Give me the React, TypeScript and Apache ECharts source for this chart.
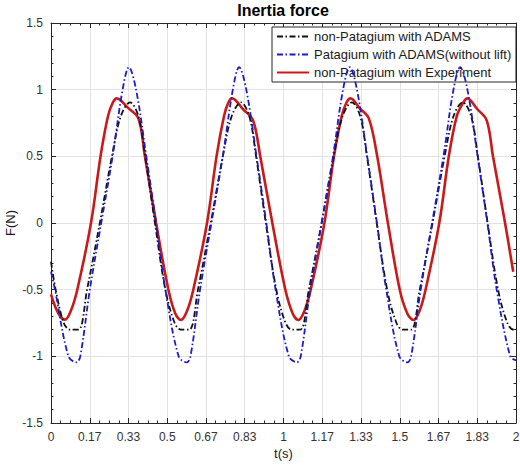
import React, { useEffect, useRef } from 'react';
import * as echarts from 'echarts';

// x tick labels (t in seconds, every 1/6 s)
const xTickLabels = ['0', '0.17', '0.33', '0.5', '0.67', '0.83', '1', '1.17', '1.33', '1.5', '1.67', '1.83', '2'];

// non-Patagium with ADAMS (black dash-dot)
const blackT = [0, 0.02, 0.055, 0.082, 0.118, 0.155, 0.21, 0.262, 0.3, 0.34, 0.376, 0.405, 0.447, 0.492, 0.532, 0.559, 0.595, 0.632, 0.687, 0.739, 0.777, 0.817, 0.853, 0.882, 0.924, 0.969, 1.009, 1.036, 1.072, 1.109, 1.164, 1.216, 1.254, 1.294, 1.33, 1.359, 1.401, 1.446, 1.486, 1.513, 1.549, 1.586, 1.641, 1.693, 1.731, 1.771, 1.807, 1.836, 1.878, 1.923, 1.963, 1.99, 2.0];
const blackF = [-0.29, -0.5, -0.75, -0.8, -0.8, -0.5, 0, 0.5, 0.8, 0.905, 0.8, 0.5, 0, -0.5, -0.75, -0.8, -0.8, -0.5, 0, 0.5, 0.8, 0.905, 0.8, 0.5, 0, -0.5, -0.75, -0.8, -0.8, -0.5, 0, 0.5, 0.8, 0.905, 0.8, 0.5, 0, -0.5, -0.75, -0.8, -0.8, -0.5, 0, 0.5, 0.8, 0.905, 0.8, 0.5, 0, -0.5, -0.75, -0.8, -0.8];

// Patagium with ADAMS (without lift) (blue dash-dot)
const blueT = [0, 0.017, 0.075, 0.11, 0.126, 0.167, 0.216, 0.265, 0.308, 0.335, 0.366, 0.41, 0.452, 0.492, 0.549, 0.584, 0.6, 0.641, 0.69, 0.739, 0.782, 0.809, 0.84, 0.884, 0.926, 0.966, 1.023, 1.058, 1.074, 1.115, 1.164, 1.213, 1.256, 1.285, 1.316, 1.36, 1.402, 1.442, 1.498, 1.533, 1.549, 1.59, 1.639, 1.688, 1.731, 1.76, 1.791, 1.835, 1.877, 1.917, 1.975, 2.0];
const blueF = [-0.365, -0.5, -1, -1.045, -1, -0.5, 0, 0.5, 1, 1.168, 1, 0.5, 0, -0.5, -1, -1.045, -1, -0.5, 0, 0.5, 1, 1.168, 1, 0.5, 0, -0.5, -1, -1.045, -1, -0.5, 0, 0.5, 1, 1.168, 1, 0.5, 0, -0.5, -1, -1.045, -1, -0.5, 0, 0.5, 1, 1.168, 1, 0.5, 0, -0.5, -1, -1.03];

// non-Patagium with Experiment (red solid)
const redT = [0, 0.02, 0.04, 0.06, 0.085, 0.113, 0.172, 0.213, 0.245, 0.265, 0.283, 0.33, 0.376, 0.404, 0.452, 0.505, 0.535, 0.559, 0.585, 0.612, 0.671, 0.712, 0.744, 0.762, 0.779, 0.825, 0.869, 0.9, 0.952, 1.008, 1.04, 1.064, 1.09, 1.117, 1.176, 1.217, 1.25, 1.27, 1.288, 1.328, 1.367, 1.403, 1.449, 1.5, 1.533, 1.559, 1.585, 1.611, 1.67, 1.711, 1.745, 1.772, 1.79, 1.833, 1.874, 1.901, 1.953, 1.988];
const redF = [-0.535, -0.635, -0.7, -0.725, -0.66, -0.5, 0, 0.5, 0.8, 0.9, 0.935, 0.865, 0.784, 0.5, 0, -0.5, -0.68, -0.727, -0.66, -0.5, 0, 0.5, 0.8, 0.9, 0.935, 0.855, 0.77, 0.5, 0, -0.5, -0.68, -0.727, -0.66, -0.5, 0, 0.5, 0.8, 0.9, 0.935, 0.86, 0.785, 0.5, 0, -0.5, -0.68, -0.727, -0.66, -0.5, 0, 0.5, 0.8, 0.9, 0.935, 0.855, 0.77, 0.5, 0, -0.365];

const FONT = '"Liberation Sans", Arial, Helvetica, sans-serif';

export default function App() {
  const ref = useRef<HTMLDivElement>(null);
  useEffect(() => {
    document.body.style.margin = '0';
    const chart = echarts.init(ref.current as HTMLDivElement, null, { renderer: 'svg' });
    const pairs = (t: number[], f: number[]) => t.map((x, i) => [x, f[i]]);
    const axisColor = '#262626';
    const dashDot = [6, 2.5, 1.5, 2.5];
    const xFormatter = (v: number) => {
      const k = Math.round(v * 6);
      if (Math.abs(v * 6 - k) > 1e-6) return '';
      if (k === 12 && v !== 2) return '';
      return xTickLabels[k] ?? '';
    };
    const common = {
      axisLine: { show: true, onZero: false, lineStyle: { color: axisColor, width: 1 } },
      axisTick: { show: true, inside: true, length: 5, lineStyle: { color: axisColor } },
    };
    chart.setOption({
      animation: false,
      backgroundColor: '#fff',
      title: {
        text: 'Inertia force',
        left: 283,
        top: 2,
        padding: 0,
        textAlign: 'center',
        textStyle: { fontSize: 16, fontWeight: 'bold', color: '#000', fontFamily: FONT },
      },
      legend: {
        orient: 'vertical',
        left: 272,
        top: 27,
        padding: [3, 4, 3, 4],
        itemWidth: 32,
        itemHeight: 13,
        itemGap: 5,
        backgroundColor: '#fff',
        borderColor: axisColor,
        borderWidth: 1,
        borderRadius: 0,
        itemStyle: { color: 'transparent', borderWidth: 0, opacity: 0 },
        textStyle: { fontSize: 13, color: '#1a1a1a', fontFamily: FONT },
      },
      grid: { left: 51, right: 4, top: 23, bottom: 48, outerBoundsMode: 'none' },
      xAxis: [
        {
          type: 'value', min: 0, max: 2, interval: 1 / 6, position: 'bottom',
          ...common,
          minorTick: { show: true, splitNumber: 4, length: 2.5, lineStyle: { color: axisColor } },
          splitLine: { show: true, lineStyle: { color: '#e2e2e2', width: 1 } },
          axisLabel: { formatter: xFormatter, color: '#333', fontSize: 12, fontFamily: FONT, margin: 8 },
          name: 't(s)', nameLocation: 'middle', nameGap: 24, nameMoveOverlap: false,
          nameTextStyle: { fontSize: 13, color: '#1a1a1a', fontFamily: FONT },
        },
        {
          type: 'value', min: 0, max: 2, interval: 1 / 6, position: 'top',
          ...common,
          minorTick: { show: true, splitNumber: 4, length: 2.5, lineStyle: { color: axisColor } },
          splitLine: { show: false },
          axisLabel: { show: false },
        },
      ],
      yAxis: [
        {
          type: 'value', min: -1.5, max: 1.5, interval: 0.5, position: 'left',
          ...common,
          minorTick: { show: true, splitNumber: 5, length: 2.5, lineStyle: { color: axisColor } },
          splitLine: { show: true, lineStyle: { color: '#e2e2e2', width: 1 } },
          axisLabel: { color: '#333', fontSize: 12, fontFamily: FONT, margin: 8 },
          name: 'F(N)', nameLocation: 'middle', nameGap: 34, nameRotate: 90, nameMoveOverlap: false,
          nameTextStyle: { fontSize: 13, color: '#1a1a1a', fontFamily: FONT },
        },
        {
          type: 'value', min: -1.5, max: 1.5, interval: 0.5, position: 'right',
          ...common,
          minorTick: { show: true, splitNumber: 5, length: 2.5, lineStyle: { color: axisColor } },
          splitLine: { show: false },
          axisLabel: { show: false },
        },
      ],
      series: [
        {
          name: 'non-Patagium with ADAMS',
          type: 'line', xAxisIndex: 0, yAxisIndex: 0, symbol: 'none', smooth: 0.35, z: 4,
          lineStyle: { color: '#111', width: 1.8, type: dashDot, cap: 'butt' },
          itemStyle: { color: '#111' },
          data: pairs(blackT, blackF),
        },
        {
          name: 'Patagium with ADAMS(without lift)',
          type: 'line', xAxisIndex: 0, yAxisIndex: 0, symbol: 'none', smooth: 0.35, z: 4,
          lineStyle: { color: '#1c1cc4', width: 1.8, type: dashDot, cap: 'butt' },
          itemStyle: { color: '#1c1cc4' },
          data: pairs(blueT, blueF),
        },
        {
          name: 'non-Patagium with Experiment',
          type: 'line', xAxisIndex: 0, yAxisIndex: 0, symbol: 'none', smooth: 0.35, z: 3,
          lineStyle: { color: '#c81a1a', width: 2.6, type: 'solid' },
          itemStyle: { color: '#c81a1a' },
          data: pairs(redT, redF),
        },
      ],
    });
    return () => chart.dispose();
  }, []);
  return (
    <div
      ref={ref}
      style={{ position: 'fixed', left: 0, top: 0, width: 520, height: 471, background: '#fff' }}
    />
  );
}
